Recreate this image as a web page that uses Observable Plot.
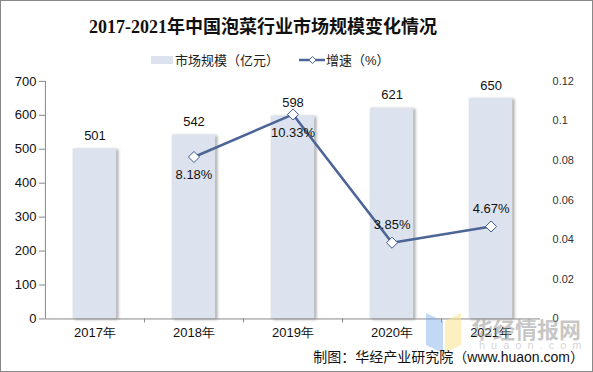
<!DOCTYPE html>
<html><head><meta charset="utf-8">
<script src="https://cdn.jsdelivr.net/npm/d3@7"></script>
<script src="https://cdn.jsdelivr.net/npm/@observablehq/plot@0.6"></script>
<style>
html,body{margin:0;padding:0;background:#fff;}
#wrap{position:relative;width:593px;height:372px;box-sizing:border-box;border:1px solid #888;overflow:hidden;font-family:"Liberation Sans",Arial,"Noto Sans CJK SC",sans-serif;}
#chart{position:absolute;left:-1px;top:-1px;}
.abs{position:absolute;white-space:nowrap;}
#title{left:88px;top:11px;font-family:"Liberation Serif","Noto Sans CJK SC",serif;font-weight:bold;font-size:18px;color:#111;}
#legend{left:150px;top:49px;font-size:13px;color:#222;display:flex;align-items:center;}
#caption{right:8px;top:345px;font-size:14px;color:#111;font-family:"Liberation Sans","Noto Sans CJK SC",sans-serif;}
#wm1{left:470px;top:311px;font-size:22px;font-weight:bold;color:rgba(150,150,150,0.55);font-family:"Noto Sans CJK SC",sans-serif;}
#wm2{left:478px;top:338px;font-size:11px;letter-spacing:6px;color:rgba(170,170,170,0.5);}
</style></head>
<body><div id="wrap">
<div id="chart"></div>
<div class="abs" id="title"></div>
<div class="abs" id="legend"></div>
<div class="abs" style="left:425px;top:312px;width:17px;height:40px;background:rgba(120,170,235,0.45);clip-path:polygon(0 0,100% 20%,100% 100%,0 80%);"></div>
<div class="abs" style="left:444px;top:312px;width:16px;height:40px;background:rgba(250,225,140,0.55);clip-path:polygon(0 20%,100% 0,100% 80%,0 100%);"></div>
<div class="abs" id="wm1">华经情报网</div>
<div class="abs" id="wm2">huaon.com</div>
<div class="abs" id="caption"></div>
</div>
<script>
const titleText = "2017-2021年中国泡菜行业市场规模变化情况";
const legendBar = "市场规模（亿元）";
const legendLine = "增速（%）";
const captionText = "制图：华经产业研究院（www.huaon.com）";
const categories = ["2017年","2018年","2019年","2020年","2021年"];
const marketSize = [501, 542, 598, 621, 650];
const growth = [null, 0.0818, 0.1033, 0.0385, 0.0467];
const growthLabels = ["", "8.18%", "10.33%", "3.85%", "4.67%"];
const labelBelow = ["2018年", "2019年"];
const leftTicks = [0, 100, 200, 300, 400, 500, 600, 700];
const rightTicks = [0, 0.02, 0.04, 0.06, 0.08, 0.1, 0.12];
const leftMax = 700, rightMax = 0.12;

const k = leftMax / rightMax;
const rows = categories.map((c, i) => ({c, i, size: marketSize[i], g: growth[i], gl: growthLabels[i]}));
const lineRows = rows.filter(d => d.g != null);
const barColor = "#dde3ee", lineColor = "#4d6596";
const font = "Liberation Sans, Arial, sans-serif";

document.getElementById("title").textContent = titleText;
document.getElementById("caption").textContent = captionText;
document.getElementById("legend").innerHTML =
  `<span style="display:inline-block;width:22px;height:8px;background:${barColor};margin-right:2px"></span><span>${legendBar}</span>` +
  `<svg width="27" height="12" style="margin-left:20px"><line x1="0" y1="6" x2="26" y2="6" stroke="${lineColor}" stroke-width="2.5"/><path d="M10 6L13.5 2.5L17 6L13.5 9.5Z" fill="#fff" stroke="${lineColor}" stroke-width="1"/></svg><span>${legendLine}</span>`;

const plot = Plot.plot({
  width: 593, height: 372,
  marginTop: 81, marginBottom: 53, marginLeft: 45, marginRight: 52,
  style: {fontFamily: font, fontSize: "13px", color: "#111", background: "transparent"},
  x: {type: "linear", domain: [0, categories.length], axis: null},
  y: {domain: [0, leftMax], axis: null},
  marks: [
    Plot.rectY(rows, {x1: d => d.i + 0.28, x2: d => d.i + 0.72, y: "size", fill: barColor}),
    Plot.ruleY([0], {stroke: "#888"}),
    Plot.ruleX([0], {stroke: "#888"}),
    Plot.axisY(leftTicks, {anchor: "left", tickSize: 6, tickPadding: 3, label: null, stroke: "#888", fontSize: 13}),
    Plot.axisY(rightTicks.map(t => t * k), {anchor: "right", tickSize: 0, tickPadding: 12, label: null, textAnchor: "start", fontSize: 11, fill: "#333",
      tickFormat: d => String(+(d / k).toFixed(2))}),
    Plot.axisX(categories.map((c, i) => i + 0.5), {anchor: "bottom", tickSize: 0, tickPadding: 9, label: null, fontSize: 13,
      tickFormat: d => categories[Math.floor(d)]}),
    Plot.axisX(d3.range(1, categories.length), {anchor: "bottom", tickSize: 4, label: null, stroke: "#888", tickFormat: () => ""}),
    Plot.text(rows, {x: d => d.i + 0.5, y: "size", text: d => String(d.size), dy: -13, fontSize: 13}),
    Plot.line(lineRows, {x: d => d.i + 0.5, y: d => d.g * k, stroke: lineColor, strokeWidth: 2.6}),
    Plot.dot(lineRows, {x: d => d.i + 0.5, y: d => d.g * k, symbol: "diamond2", r: 5, fill: "#fff", stroke: "#3e5890", strokeWidth: 1}),
    Plot.text(lineRows.filter(d => labelBelow.includes(d.c)), {x: d => d.i + 0.5, y: d => d.g * k, text: "gl", dy: 18, fontSize: 13}),
    Plot.text(lineRows.filter(d => !labelBelow.includes(d.c)), {x: d => d.i + 0.5, y: d => d.g * k, text: "gl", dy: -18, fontSize: 13})
  ]
});
const bars = plot.querySelector('g[aria-label="rect"]');
if (bars) bars.style.filter = "drop-shadow(2px 1px 1.5px rgba(0,0,0,0.35))";
document.getElementById("chart").appendChild(plot);
</script>
</body></html>
